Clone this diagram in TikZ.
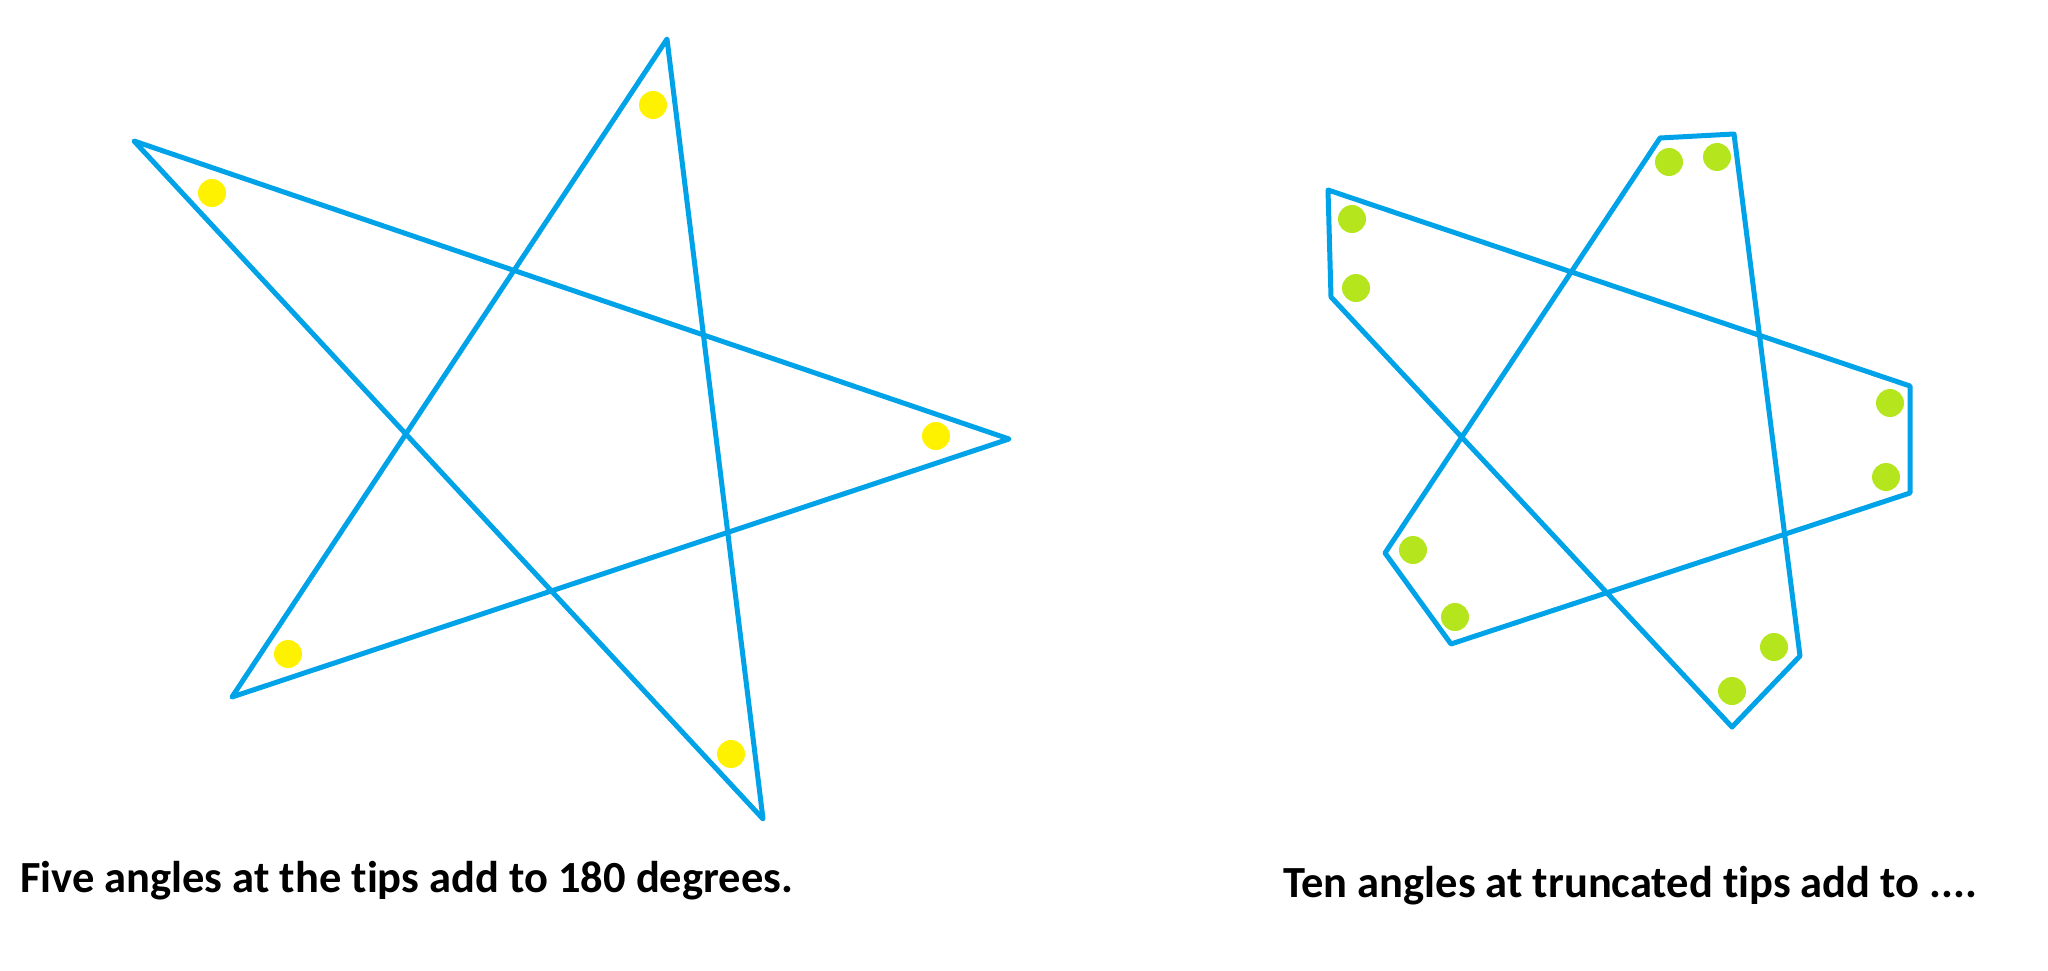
\documentclass[tikz,border=0pt]{standalone}
\usepackage{fontspec}
\setmainfont{Carlito}[Ligatures=NoCommon]
\usetikzlibrary{positioning}
\definecolor{paintblue}{HTML}{00A2E8}
\definecolor{paintyellow}{HTML}{FFF200}
\definecolor{paintgreen}{HTML}{B5E61D}

\begin{document}
\begin{tikzpicture}[x=1pt,y=-1pt,line join=round,line cap=round,
    star line/.style={draw=paintblue,line width=5pt},
    tip dot/.style={circle,fill=paintyellow,minimum size=28pt,inner sep=0pt},
    cut dot/.style={tip dot,fill=paintgreen},
    caption/.style={font=\bfseries\fontsize{44.5}{54}\selectfont,anchor=base west,inner sep=0pt}]

            \useasboundingbox (0,0) rectangle (2048,971);

            % five pointed star
            \foreach \name/\x/\y in {top/667/39, lft/134/141, rgt/1009/439, blft/232/697, bot/763/819}{
                \coordinate (\name) at (\x,\y);
            }
            \draw[star line] (lft) -- (rgt) -- (blft) -- (top) -- (bot) -- cycle;

            \foreach \i/\x/\y in {1/653/105, 2/212/193, 3/936/436, 4/288/654, 5/731/754}{
                \node[tip dot] (y\i) at (\x,\y) {};
            }

            % star with cut tips
            \foreach \i/\x/\y in {1/1660/138, 2/1734/134, 3/1800/656, 4/1732/727, 5/1331/297,
                                  6/1328/190, 7/1910/386, 8/1910/493, 9/1451/644, 10/1385/553}{
                \coordinate (c\i) at (\x,\y);
            }
            \draw[star line] (c1) -- (c2) -- (c3) -- (c4) -- (c5) -- (c6) -- (c7) -- (c8) -- (c9) -- (c10) -- cycle;

            \foreach \i/\x/\y in {1/1669/162, 2/1717/157, 3/1352/219, 4/1356/288, 5/1890/403,
                                  6/1886/477, 7/1413/550, 8/1455/617, 9/1774/647, 10/1732/691}{
                \node[cut dot] (g\i) at (\x,\y) {};
            }

            \node[caption] (cap left) at (20,892) {Five angles at the tips add to 180 degrees.};
            \node[caption] (cap right) at (1283,897) {Ten angles at truncated tips add to ....};

        \end{tikzpicture}
\end{document}
